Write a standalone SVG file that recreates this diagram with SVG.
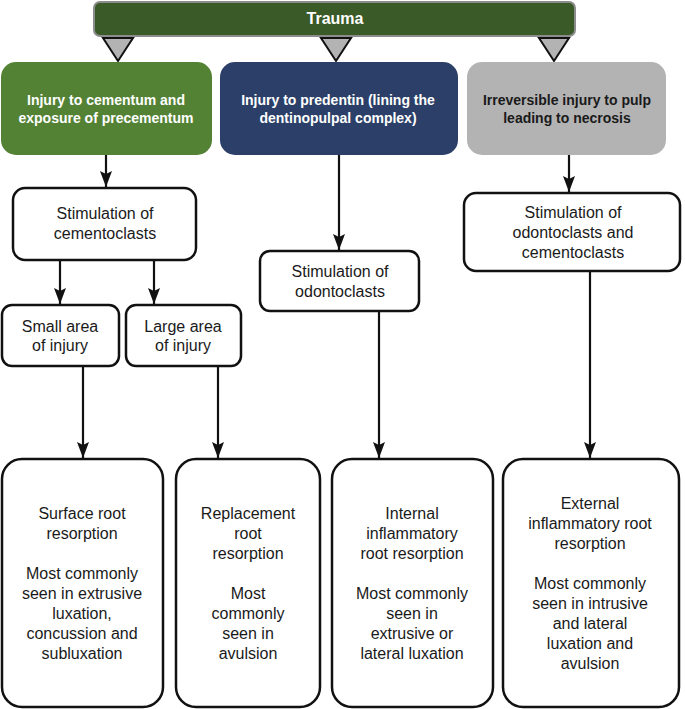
<svg xmlns="http://www.w3.org/2000/svg" width="685" height="709" viewBox="0 0 685 709">
<defs>
<marker id="ah" markerWidth="16" markerHeight="12" viewBox="0 0 16 12" refX="16" refY="6" orient="auto" markerUnits="userSpaceOnUse">
<path d="M0,0 L16,6 L0,12 L3,6 Z" fill="#111"/>
</marker>
</defs>
<style>
.box{fill:#fff;stroke:#111;stroke-width:2.5}
.t{font-family:"Liberation Sans",Arial,sans-serif;font-size:16px;fill:#1a1a1a;text-anchor:middle}
.h{font-family:"Liberation Sans",Arial,sans-serif;font-size:14px;font-weight:bold;text-anchor:middle}
.tri{fill:#b3b3b3;stroke:#111;stroke-width:2}
.c{stroke:#111;stroke-width:2.2;fill:none}
</style>
<g id="trauma">
<rect x="94" y="2" width="481" height="34" rx="6" fill="#3a5a27" stroke="#8c8c8c" stroke-width="2"/>
<text x="335" y="24" class="h" style="font-size:16px" fill="#fff">Trauma</text>
</g>
<g id="connectors">
<path class="tri" d="M103,38 L133,38 L118,61 Z"/>
<path class="tri" d="M321,38 L351,38 L336,61 Z"/>
<path class="tri" d="M539,38 L569,38 L554,61 Z"/>
<line class="c" x1="106" y1="155" x2="106" y2="187" marker-end="url(#ah)"/>
<line class="c" x1="60" y1="261" x2="60" y2="304" marker-end="url(#ah)"/>
<line class="c" x1="154" y1="261" x2="154" y2="304" marker-end="url(#ah)"/>
<line class="c" x1="83" y1="366" x2="83" y2="458" marker-end="url(#ah)"/>
<line class="c" x1="218" y1="366" x2="218" y2="458" marker-end="url(#ah)"/>
<line class="c" x1="339" y1="155" x2="339" y2="250" marker-end="url(#ah)"/>
<line class="c" x1="379" y1="311" x2="379" y2="458" marker-end="url(#ah)"/>
<line class="c" x1="569" y1="155" x2="569" y2="192" marker-end="url(#ah)"/>
<line class="c" x1="590" y1="271" x2="590" y2="458" marker-end="url(#ah)"/>
</g>
<g id="cementum">
<rect x="1" y="62" width="211" height="93" rx="15" fill="#548235"/>
<text class="h" fill="#fff"><tspan x="106" y="105">Injury to cementum and</tspan><tspan x="106" y="123">exposure of precementum</tspan></text>
</g>
<g id="predentin">
<rect x="220" y="62" width="238" height="93" rx="15" fill="#2b3f68"/>
<text class="h" fill="#fff"><tspan x="338" y="105">Injury to predentin (lining the</tspan><tspan x="338" y="123">dentinopulpal complex)</tspan></text>
</g>
<g id="pulp">
<rect x="467" y="62" width="199" height="93" rx="15" fill="#b3b3b3"/>
<text class="h" fill="#1a1a1a"><tspan x="567" y="105">Irreversible injury to pulp</tspan><tspan x="567" y="123">leading to necrosis</tspan></text>
</g>
<g id="stim-cementoclasts">
<rect class="box" x="13" y="188" width="183" height="72" rx="12"/>
<text class="t"><tspan x="105" y="219">Stimulation of</tspan><tspan x="105" y="239">cementoclasts</tspan></text>
</g>
<g id="small-area">
<rect class="box" x="2" y="305" width="117" height="61" rx="10"/>
<text class="t"><tspan x="60" y="332">Small area</tspan><tspan x="60" y="351">of injury</tspan></text>
</g>
<g id="large-area">
<rect class="box" x="126" y="305" width="115" height="61" rx="10"/>
<text class="t"><tspan x="183" y="332">Large area</tspan><tspan x="183" y="351">of injury</tspan></text>
</g>
<g id="stim-odontoclasts">
<rect class="box" x="260" y="251" width="159" height="60" rx="10"/>
<text class="t"><tspan x="340" y="277">Stimulation of</tspan><tspan x="340" y="297">odontoclasts</tspan></text>
</g>
<g id="stim-both">
<rect class="box" x="464" y="193" width="216" height="78" rx="12"/>
<text class="t"><tspan x="573" y="218">Stimulation of</tspan><tspan x="573" y="238">odontoclasts and</tspan><tspan x="573" y="258">cementoclasts</tspan></text>
</g>
<g id="surface">
<rect class="box" x="2" y="459" width="161" height="248" rx="20"/>
<text class="t"><tspan x="82" y="519">Surface root</tspan><tspan x="82" y="539">resorption</tspan><tspan x="82" y="579">Most commonly</tspan><tspan x="82" y="599">seen in extrusive</tspan><tspan x="82" y="619">luxation,</tspan><tspan x="82" y="639">concussion and</tspan><tspan x="82" y="659">subluxation</tspan></text>
</g>
<g id="replacement">
<rect class="box" x="176" y="459" width="144" height="248" rx="20"/>
<text class="t"><tspan x="248" y="519">Replacement</tspan><tspan x="248" y="539">root</tspan><tspan x="248" y="559">resorption</tspan><tspan x="248" y="599">Most</tspan><tspan x="248" y="619">commonly</tspan><tspan x="248" y="639">seen in</tspan><tspan x="248" y="659">avulsion</tspan></text>
</g>
<g id="internal">
<rect class="box" x="332" y="459" width="161" height="248" rx="20"/>
<text class="t"><tspan x="412" y="519">Internal</tspan><tspan x="412" y="539">inflammatory</tspan><tspan x="412" y="559">root resorption</tspan><tspan x="412" y="599">Most commonly</tspan><tspan x="412" y="619">seen in</tspan><tspan x="412" y="639">extrusive or</tspan><tspan x="412" y="659">lateral luxation</tspan></text>
</g>
<g id="external">
<rect class="box" x="503" y="459" width="176" height="248" rx="20"/>
<text class="t"><tspan x="590" y="509">External</tspan><tspan x="590" y="529">inflammatory root</tspan><tspan x="590" y="549">resorption</tspan><tspan x="590" y="589">Most commonly</tspan><tspan x="590" y="609">seen in intrusive</tspan><tspan x="590" y="629">and lateral</tspan><tspan x="590" y="649">luxation and</tspan><tspan x="590" y="669">avulsion</tspan></text>
</g>
</svg>
